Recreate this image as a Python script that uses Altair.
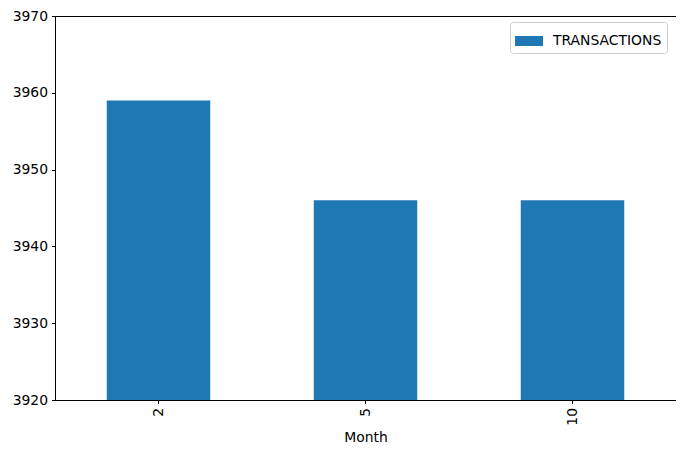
import altair as alt
import pandas as pd

months = ["2", "5", "10"]
transactions = [3959, 3946, 3946]
series_name = "TRANSACTIONS"
y_ticks = [3920, 3930, 3940, 3950, 3960, 3970]

df = pd.DataFrame({"Month": months, "value": transactions, "series": [series_name] * len(months)})

FS = 13.9

chart = alt.Chart(df).mark_bar(color="#1f77b4").encode(
    x=alt.X("Month:N", sort=months,
            scale=alt.Scale(paddingInner=0.5, paddingOuter=0.25),
            axis=alt.Axis(title="Month", labelAngle=270, labelAlign="right", labelBaseline="middle")),
    y=alt.Y("value:Q", scale=alt.Scale(domain=[3920, 3970], zero=False, nice=False),
            axis=alt.Axis(title=None, values=y_ticks, format="d")),
    y2=alt.datum(3920),
    color=alt.Color("series:N", scale=alt.Scale(range=["#1f77b4"]),
                    legend=alt.Legend(title=None, orient="none", legendX=455, legendY=6,
                                      symbolType="M-1,-0.357L1,-0.357L1,0.357L-1,0.357Z",
                                      symbolSize=784, symbolStrokeWidth=0,
                                      labelFontSize=FS, labelColor="black", labelFont="DejaVu Sans",
                                      strokeColor="#cccccc", fillColor="white", cornerRadius=3,
                                      padding=5, labelOffset=10)),
).properties(
    width=621, height=384,
    autosize=alt.AutoSizeParams(type="none"),
    padding={"left": 47, "top": 8, "right": 0, "bottom": 50},
).configure_view(
    stroke="black", strokeWidth=1
).configure_axis(
    grid=False, domain=True, domainColor="black", tickColor="black", tickSize=3.5,
    labelColor="black", labelFont="DejaVu Sans", labelFontSize=FS, labelPadding=4,
    titleFont="DejaVu Sans", titleFontSize=FS, titleFontWeight="normal", titleColor="black",
    titlePadding=5,
)

chart.save("out.html", embed_options={"renderer": "svg", "actions": False})
